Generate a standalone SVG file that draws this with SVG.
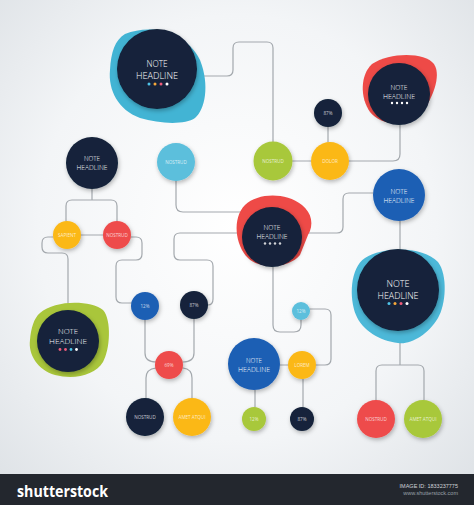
<svg xmlns="http://www.w3.org/2000/svg" width="474" height="505" viewBox="0 0 474 505">
<defs>
<radialGradient id="bg" cx="50%" cy="45%" r="70%">
<stop offset="0" stop-color="#ffffff"/>
<stop offset="0.6" stop-color="#f3f5f7"/>
<stop offset="1" stop-color="#dfe3e7"/>
</radialGradient>
<filter id="sh" x="-30%" y="-30%" width="160%" height="160%">
<feDropShadow dx="1" dy="2" stdDeviation="2" flood-color="#000" flood-opacity="0.28"/>
</filter>
</defs>
<style>
.c{fill:none;stroke:#a3a8ad;stroke-width:1.2;stroke-linecap:round}
.n{fill:#13233a}.cy{fill:#5bbfdc}.rd{fill:#ee4b4b}.ye{fill:#fbb818}.gr{fill:#a8c83b}.bl{fill:#1c5fb4}
.nd{filter:url(#sh)}
.h{font-family:"Open Sans","Liberation Sans",sans-serif;font-weight:300;fill:#ffffff;text-anchor:middle}
.s{font-family:"Open Sans","Liberation Sans",sans-serif;font-size:4.6px;fill:#ffffff;fill-opacity:0.75;text-anchor:middle}
.d1{fill:#4fc3e8}.d2{fill:#f7a83a}.d3{fill:#ef5b7a}.d4{fill:#ffffff}
</style>
<rect width="474" height="505" fill="url(#bg)"/>

<g id="connectors">
<path class="c" d="M198,76 H227 Q233,76 233,70 V48 Q233,42 239,42 H267 Q273,42 273,48 V142"/>
<path class="c" d="M328,127 V142"/>
<path class="c" d="M292,161 H311"/>
<path class="c" d="M349,161 H393 Q400,161 400,154 V125"/>
<path class="c" d="M176,181 V205 Q176,212 183,212 H243"/>
<path class="c" d="M92,189 V200 M66,221 V206 Q66,200 72,200 H111 Q117,200 117,206 V221"/>
<path class="c" d="M81,235 H103"/>
<path class="c" d="M53,237 H48 Q42,237 42,243 V247 Q42,253 48,253 H62 Q68,253 68,259 V310"/>
<path class="c" d="M131,237 H136 Q142,237 142,243 V254 Q142,260 136,260 H122 Q116,260 116,266 V297 Q116,303 122,303 H132"/>
<path class="c" d="M242,233 H180 Q174,233 174,239 V254 Q174,260 180,260 H207 Q213,260 213,266 V299 Q213,305 208,305"/>
<path class="c" d="M145,319 V353 Q145,362 156,362"/>
<path class="c" d="M194,319 V353 Q194,362 183,362"/>
<path class="c" d="M156,368 Q146,369 146,378 V398"/>
<path class="c" d="M183,368 Q192,369 192,378 V398"/>
<path class="c" d="M302,233 H337 Q343,233 343,227 V199 Q343,193 349,193 H373"/>
<path class="c" d="M400,221 V250"/>
<path class="c" d="M400,331 V365 M376,400 V371 Q376,365 382,365 H418 Q424,365 424,371 V400"/>
<path class="c" d="M273,267 V325 Q273,332 280,332 H294 Q301,332 301,325 V320"/>
<path class="c" d="M310,309 H325 Q331,309 331,315 V359 Q331,365 325,365 H316"/>
<path class="c" d="M280,365 H288"/>
<path class="c" d="M255,390 V407"/>
<path class="c" d="M303,379 V407"/>
</g>

<g id="node-topleft">
<path fill="#42b4d4" d="M125,34 C150,24 185,30 200,60 C210,85 205,110 195,118 C185,125 160,124 140,118 C118,110 108,90 110,70 C111,52 115,40 125,34 Z"/>
<circle class="n nd" cx="157" cy="69" r="40"/>
<text class="h" x="157" y="67" font-size="9" textLength="21" lengthAdjust="spacingAndGlyphs">NOTE</text>
<text class="h" x="157" y="79" font-size="9" textLength="42" lengthAdjust="spacingAndGlyphs">HEADLINE</text>
<circle class="d1" cx="149" cy="84" r="1.5"/><circle class="d2" cx="155" cy="84" r="1.5"/><circle class="d3" cx="161" cy="84" r="1.5"/><circle class="d4" cx="167" cy="84" r="1.5"/>
</g>

<g id="node-topright">
<path fill="#ee4a47" d="M372,64 C390,52 425,52 434,64 C442,76 432,100 420,115 C405,128 380,125 370,112 C360,98 360,75 372,64 Z"/>
<circle class="n nd" cx="399" cy="94" r="31"/>
<text class="h" x="399" y="89.5" font-size="7.3" textLength="17" lengthAdjust="spacingAndGlyphs">NOTE</text>
<text class="h" x="399" y="98.5" font-size="7.3" textLength="32" lengthAdjust="spacingAndGlyphs">HEADLINE</text>
<circle class="d4" cx="392" cy="103" r="1.2"/><circle class="d4" cx="397" cy="103" r="1.2"/><circle class="d4" cx="402" cy="103" r="1.2"/><circle class="d4" cx="407" cy="103" r="1.2"/>
</g>

<g id="node-87a"><circle class="n nd" cx="328" cy="113" r="14"/><text class="s" x="328" y="114.6">87%</text></g>
<g id="node-dolor"><circle class="ye nd" cx="330" cy="161" r="19"/><text class="s" x="330" y="162.6">DOLOR</text></g>
<g id="node-nostrud-green"><circle class="gr nd" cx="273" cy="161" r="19.5"/><text class="s" x="273" y="162.6">NOSTRUD</text></g>
<g id="node-nostrud-cyan"><circle class="cy nd" cx="176" cy="162" r="19"/><text class="s" x="176" y="163.6">NOSTRUD</text></g>

<g id="node-left">
<circle class="n nd" cx="92" cy="163" r="26"/>
<text class="h" x="92" y="160.5" font-size="7.3" textLength="16" lengthAdjust="spacingAndGlyphs">NOTE</text>
<text class="h" x="92" y="169.8" font-size="7.3" textLength="31" lengthAdjust="spacingAndGlyphs">HEADLINE</text>
</g>
<g id="node-sapient"><circle class="ye nd" cx="67" cy="235" r="14"/><text class="s" x="67" y="236.6">SAPIENT</text></g>
<g id="node-nostrud-red"><circle class="rd nd" cx="117" cy="235" r="14"/><text class="s" x="117" y="236.6">NOSTRUD</text></g>

<g id="node-greenblob">
<path fill="#a9c63b" d="M40,313 C55,300 90,300 103,310 C112,320 110,350 103,362 C95,375 75,380 55,375 C38,370 28,355 30,340 C31,328 34,318 40,313 Z"/>
<circle class="n nd" cx="68" cy="341" r="31"/>
<text class="h" x="68" y="333.5" font-size="8" textLength="20" lengthAdjust="spacingAndGlyphs">NOTE</text>
<text class="h" x="68" y="344" font-size="8" textLength="38" lengthAdjust="spacingAndGlyphs">HEADLINE</text>
<circle class="d3" cx="60" cy="349.5" r="1.4"/><circle class="d3" cx="65.5" cy="349.5" r="1.4"/><circle class="d1" cx="71" cy="349.5" r="1.4"/><circle class="d4" cx="76.5" cy="349.5" r="1.4"/>
</g>

<g id="node-12a"><circle class="bl nd" cx="145" cy="306" r="14"/><text class="s" x="145" y="307.6">12%</text></g>
<g id="node-87b"><circle class="n nd" cx="194" cy="305" r="14"/><text class="s" x="194" y="306.6">87%</text></g>
<g id="node-69"><circle class="rd nd" cx="169" cy="365" r="14"/><text class="s" x="169" y="366.6">69%</text></g>
<g id="node-nostrud-dark"><circle class="n nd" cx="145" cy="417" r="19"/><text class="s" x="145" y="418.6">NOSTRUD</text></g>
<g id="node-amet-yellow"><circle class="ye nd" cx="192" cy="417" r="19"/><text class="s" x="192" y="418.6">AMET ATQUI</text></g>

<g id="node-center">
<path fill="#ee4a47" d="M245,205 C258,193 285,192 302,205 C312,213 314,225 308,235 L300,255 C290,268 260,270 248,258 C235,245 232,218 245,205 Z"/>
<circle class="n nd" cx="272" cy="237" r="30"/>
<text class="h" x="272" y="229.5" font-size="7.3" textLength="17" lengthAdjust="spacingAndGlyphs">NOTE</text>
<text class="h" x="272" y="238.8" font-size="7.3" textLength="31" lengthAdjust="spacingAndGlyphs">HEADLINE</text>
<circle class="d4" cx="265" cy="243.5" r="1.2" fill-opacity="0.8"/><circle class="d4" cx="270" cy="243.5" r="1.2" fill-opacity="0.8"/><circle class="d4" cx="275" cy="243.5" r="1.2" fill-opacity="0.8"/><circle class="d4" cx="280" cy="243.5" r="1.2" fill-opacity="0.8"/>
</g>

<g id="node-blue-top">
<circle class="bl nd" cx="399" cy="195" r="26"/>
<text class="h" x="399" y="193.5" font-size="7.3" textLength="17" lengthAdjust="spacingAndGlyphs">NOTE</text>
<text class="h" x="399" y="203" font-size="7.3" textLength="31" lengthAdjust="spacingAndGlyphs">HEADLINE</text>
</g>

<g id="node-bigright">
<path fill="#4cb8d8" d="M365,258 C385,245 425,247 438,262 C448,275 446,305 438,318 C428,335 410,345 398,343 C380,341 362,330 356,315 C349,298 350,268 365,258 Z"/>
<circle class="n nd" cx="398" cy="290" r="41"/>
<text class="h" x="398" y="286.5" font-size="9" textLength="23" lengthAdjust="spacingAndGlyphs">NOTE</text>
<text class="h" x="398" y="298.5" font-size="9" textLength="41" lengthAdjust="spacingAndGlyphs">HEADLINE</text>
<circle class="d1" cx="389" cy="303.5" r="1.5"/><circle class="d2" cx="395" cy="303.5" r="1.5"/><circle class="d3" cx="401" cy="303.5" r="1.5"/><circle class="d4" cx="407" cy="303.5" r="1.5"/>
</g>

<g id="node-nostrud-red2"><circle class="rd nd" cx="376" cy="419" r="19"/><text class="s" x="376" y="420.6">NOSTRUD</text></g>
<g id="node-amet-green"><circle class="gr nd" cx="423" cy="419" r="19"/><text class="s" x="423" y="420.6">AMET ATQUI</text></g>

<g id="node-12-cyan"><circle class="cy nd" cx="301" cy="311" r="9"/><text class="s" x="301" y="312.5" font-size="4">12%</text></g>
<g id="node-blue-bottom">
<circle class="bl nd" cx="254" cy="364" r="26"/>
<text class="h" x="254" y="362.5" font-size="7.3" textLength="16" lengthAdjust="spacingAndGlyphs">NOTE</text>
<text class="h" x="254" y="372" font-size="7.3" textLength="32" lengthAdjust="spacingAndGlyphs">HEADLINE</text>
</g>
<g id="node-lorem"><circle class="ye nd" cx="302" cy="365" r="14"/><text class="s" x="302" y="366.6">LOREM</text></g>
<g id="node-12-green"><circle class="gr nd" cx="254" cy="419" r="12"/><text class="s" x="254" y="420.6">12%</text></g>
<g id="node-87c"><circle class="n nd" cx="302" cy="419" r="12"/><text class="s" x="302" y="420.6">87%</text></g>

<g id="footer">
<rect x="0" y="474" width="474" height="31" fill="#23272e"/>
<text x="17" y="497" font-family="Open Sans, Liberation Sans, sans-serif" font-weight="700" font-size="16.5" fill="#ffffff" textLength="91" lengthAdjust="spacingAndGlyphs">shutterstock</text>
<text x="458" y="488" font-family="Liberation Sans, sans-serif" font-size="5.5" fill="#d0d3d8" text-anchor="end">IMAGE ID: 1833237775</text>
<text x="458" y="495" font-family="Liberation Sans, sans-serif" font-size="5.5" fill="#9aa0a8" text-anchor="end">www.shutterstock.com</text>
</g>
</svg>
